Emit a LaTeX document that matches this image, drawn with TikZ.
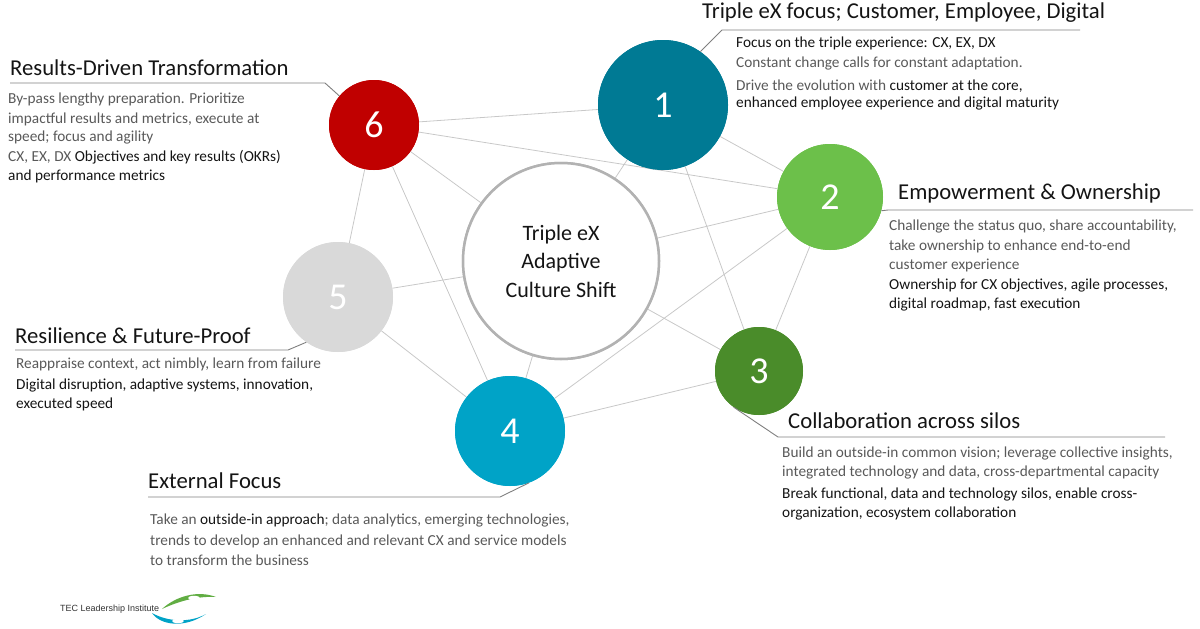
\documentclass[tikz,border=0pt]{standalone}
\usepackage{fontspec}
\setmainfont{Carlito}
\newfontfamily\arialf{Liberation Sans}
\definecolor{txg}{HTML}{595959}
\definecolor{txk}{HTML}{141414}
\definecolor{cone}{HTML}{007A94}
\definecolor{ctwo}{HTML}{6CC04A}
\definecolor{cthree}{HTML}{4A8C2A}
\definecolor{cfour}{HTML}{00A3C7}
\definecolor{cfive}{HTML}{D9D9D9}
\definecolor{csix}{HTML}{C00000}
\definecolor{edgec}{HTML}{C8C8C8}
\definecolor{leadc}{HTML}{7F7F7F}
\newcommand{\bk}[1]{\textcolor{txk}{#1}}
\begin{document}
\begin{tikzpicture}[x=1pt,y=-1pt,
  ball/.style={circle,inner sep=0pt,text=white,font=\fontsize{38}{38}\selectfont},
  mid/.style={circle,draw=black!30,line width=2.5pt,fill=white,minimum size=196pt,align=center,inner sep=0pt,
  font=\fontsize{22}{28.5}\selectfont,text=txk},
  edge/.style={draw=edgec,line width=0.8pt},
  lead/.style={draw=leadc,line width=0.9pt},
  ttl/.style={anchor=west,inner sep=0pt,text=txk,font=\fontsize{22.7}{24}\selectfont},
  bt/.style={anchor=west,inner sep=0pt,text=txg,font=\fontsize{15.3}{16}\selectfont}]
\useasboundingbox (0,0) rectangle (1200,629);
\node[ball,fill=cone,minimum size=130pt] (c1) at (663,105) {1};
\node[ball,fill=ctwo,minimum size=106pt] (c2) at (830,197) {2};
\node[ball,fill=cthree,minimum size=88pt] (c3) at (759,371) {3};
\node[ball,fill=cfour,minimum size=110pt] (c4) at (510,431) {4};
\node[ball,fill=cfive,minimum size=110pt] (c5) at (338,297) {5};
\node[ball,fill=csix,minimum size=90pt] (c6) at (374,125) {6};
\node[mid] (cc) at (561,261) {Triple eX\\Adaptive\\Culture Shift};
\foreach \a/\b in {c6/c1,c6/c2,c6/cc,c6/c5,c6/c4,c5/cc,c5/c4,c4/cc,c4/c2,c4/c3,cc/c1,cc/c2,cc/c3,c1/c3,c1/c2,c2/c3}
  \draw[edge] (\a) -- (\b);
\node[ball,fill=cone,minimum size=130pt] at (c1) {1};
\node[ball,fill=ctwo,minimum size=106pt] at (c2) {2};
\node[ball,fill=cthree,minimum size=88pt] at (c3) {3};
\node[ball,fill=cfour,minimum size=110pt] at (c4) {4};
\node[ball,fill=cfive,minimum size=110pt] at (c5) {5};
\node[ball,fill=csix,minimum size=90pt] at (c6) {6};
\node[mid] at (cc) {Triple eX\\Adaptive\\Culture Shift};
% titles
\node[ttl] (t1) at (702,13) {Triple eX focus; Customer, Employee, Digital};
\node[ttl] (t6) at (10,68) {Results-Driven Transformation};
\node[ttl] (t2) at (898,193) {Empowerment \& Ownership};
\node[ttl] (t5) at (15,336) {Resilience \& Future-Proof};
\node[ttl] (t3) at (788,421) {Collaboration across silos};
\node[ttl] (t4) at (148,481) {External Focus};
% leaders
\coordinate (l1a) at (722,30); \coordinate (l1b) at (1080,30);
\draw[lead] (c1.55) -- (l1a) -- (l1b);
\coordinate (l6a) at (325,83); \coordinate (l6b) at (10,83);
\draw[lead] (c6.140) -- (l6a) -- (l6b);
\coordinate (l2a) at (888,210); \coordinate (l2b) at (1193,210);
\draw[lead] (c2.-15) -- (l2a) -- (l2b);
\coordinate (l5a) at (288,350); \coordinate (l5b) at (15,350);
\draw[lead] (c5.235) -- (l5a) -- (l5b);
\coordinate (l3a) at (778,437); \coordinate (l3b) at (1165,437);
\draw[lead] (c3.235) -- (l3a) -- (l3b);
\coordinate (l4a) at (500,497); \coordinate (l4b) at (148,497);
\draw[lead] (c4.290) -- (l4a) -- (l4b);
% body texts
\node[bt] (b1a) at (736,43) {\bk{Focus on the triple experience: CX, EX, DX}};
\node[bt] (b1b) at (736,64) {Constant change calls for constant adaptation.};
\node[bt] (b1c) at (736,86) {Drive the evolution with \bk{customer at the core,}};
\node[bt] (b1d) at (736,104) {\bk{enhanced employee experience and digital maturity}};
\node[bt] (b6a) at (8,100) {By-pass lengthy preparation. Prioritize};
\node[bt] (b6b) at (8,119) {impactful results and metrics, execute at};
\node[bt] (b6c) at (8,138) {speed; focus and agility};
\node[bt] (b6d) at (8,157) {CX, EX, DX \bk{Objectives and key results (OKRs)}};
\node[bt] (b6e) at (8,176) {\bk{and performance metrics}};
\node[bt] (b2a) at (889,227) {Challenge the status quo, share accountability,};
\node[bt] (b2b) at (889,246) {take ownership to enhance end-to-end};
\node[bt] (b2c) at (889,265) {customer experience};
\node[bt] (b2d) at (889,286) {\bk{Ownership for CX objectives, agile processes,}};
\node[bt] (b2e) at (889,305) {\bk{digital roadmap, fast execution}};
\node[bt] (b5a) at (16,364) {Reappraise context, act nimbly, learn from failure};
\node[bt] (b5b) at (16,385) {\bk{Digital disruption, adaptive systems, innovation,}};
\node[bt] (b5c) at (16,404) {\bk{executed speed}};
\node[bt] (b3a) at (782,453) {Build an outside-in common vision; leverage collective insights,};
\node[bt] (b3b) at (782,472) {integrated technology and data, cross-departmental capacity};
\node[bt] (b3c) at (782,494) {\bk{Break functional, data and technology silos, enable cross-}};
\node[bt] (b3d) at (782,513) {\bk{organization, ecosystem collaboration}};
\node[bt] (b4a) at (150,520) {Take an \bk{outside-in approach}; data analytics, emerging technologies,};
\node[bt] (b4b) at (150,541) {trends to develop an enhanced and relevant CX and service models};
\node[bt] (b4c) at (150,560) {to transform the business};
% logo
\node[anchor=west,inner sep=0pt,font=\arialf\fontsize{9}{10}\selectfont,text=black!80] (logo) at (60,609) {TEC Leadership Institute};
\fill[ctwo!90!black] (162,609) .. controls (176,596) and (198,590) .. (216,597) .. controls (200,596) and (181,600) .. (162,609) -- cycle;
\fill[white] (194,598) ellipse (6pt and 2.2pt);
\fill[cfour] (152,613) .. controls (160,625) and (184,629) .. (206,614) .. controls (190,623) and (168,622) .. (152,613) -- cycle;
\fill[white] (178,621) ellipse (6pt and 2.2pt);
\end{tikzpicture}
\end{document}
